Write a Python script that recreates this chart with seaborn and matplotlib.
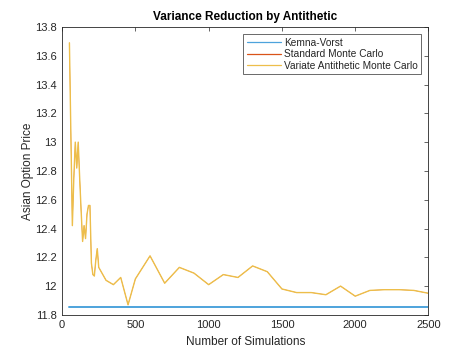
#!/usr/bin/env python3
import numpy as np
import pandas as pd
import matplotlib
matplotlib.use("Agg")
import matplotlib.pyplot as plt
import seaborn as sns
from matplotlib.ticker import MultipleLocator, FuncFormatter

# data
n_sims = [50, 60, 70, 80, 90, 100, 110, 120, 130, 140, 150, 160, 170, 180, 190,
          200, 210, 220, 230, 240, 250, 300, 350, 400, 450, 500, 600, 700, 800,
          900, 1000, 1100, 1200, 1300, 1400, 1500, 1600, 1700, 1800, 1900, 2000,
          2100, 2200, 2300, 2400, 2500]
antithetic = [13.69, 13.05, 12.42, 12.75, 13.00, 12.82, 13.00, 12.75, 12.52, 12.31,
              12.42, 12.33, 12.50, 12.56, 12.56, 12.16, 12.08, 12.07, 12.18, 12.26,
              12.13, 12.04, 12.01, 12.06, 11.87, 12.05, 12.21, 12.02, 12.13, 12.09,
              12.01, 12.08, 12.06, 12.14, 12.10, 11.98, 11.955, 11.955, 11.94, 12.00,
              11.93, 11.97, 11.975, 11.975, 11.97, 11.95]
# standard MC curve is hidden under the antithetic one in the reference
standard = antithetic
kemna_vorst = [11.858] * len(n_sims)

BLUE = "#4DA3DC"
RED = "#D95319"
YELLOW = "#EDBE4A"
AX_COLOR = "#262626"

sns.set_style("white")
plt.rcParams["font.family"] = ["Liberation Sans", "DejaVu Sans"]

df = pd.DataFrame({"N": n_sims, "kv": kemna_vorst, "std": standard, "anti": antithetic})

fig = plt.figure(figsize=(4.74, 3.55), dpi=100)
ax = fig.add_axes([0.131, 0.113, 0.773, 0.811])

sns.lineplot(data=df, x="N", y="kv", ax=ax, color=BLUE, linewidth=1.4,
             label="Kemna-Vorst")
sns.lineplot(data=df, x="N", y="std", ax=ax, color=RED, linewidth=0.3,
             label="Standard Monte Carlo", zorder=1)
sns.lineplot(data=df, x="N", y="anti", ax=ax, color=YELLOW, linewidth=1.0,
             label="Variate Antithetic Monte Carlo", zorder=3)

ax.set_xlim(0, 2500)
ax.set_ylim(11.8, 13.8)
ax.xaxis.set_major_locator(MultipleLocator(500))
ax.yaxis.set_major_locator(MultipleLocator(0.2))
ax.yaxis.set_major_formatter(FuncFormatter(lambda v, p: f"{v:g}"))

ax.tick_params(direction="in", length=3, width=0.5, colors=AX_COLOR,
               labelsize=8, top=True, right=True, pad=4)
for s in ax.spines.values():
    s.set_color(AX_COLOR)
    s.set_linewidth(0.6)

ax.set_xlabel("Number of Simulations", fontsize=8.5, color=AX_COLOR, labelpad=4)
ax.set_ylabel("Asian Option Price", fontsize=8.5, color=AX_COLOR, labelpad=0.5)
ax.set_title("Variance Reduction by Antithetic", fontsize=8.5, fontweight="bold",
             color="black", pad=5)

leg = ax.legend(loc="upper right", fontsize=7.3, frameon=True, fancybox=False,
                handlelength=3.4, handletextpad=0.3, borderpad=0.35,
                labelspacing=0.15, borderaxespad=0.7)
leg.get_frame().set_edgecolor(AX_COLOR)
leg.get_frame().set_linewidth(0.6)
for h in leg.get_lines():
    h.set_linewidth(0.9)

fig.savefig("out.png", dpi=100)
